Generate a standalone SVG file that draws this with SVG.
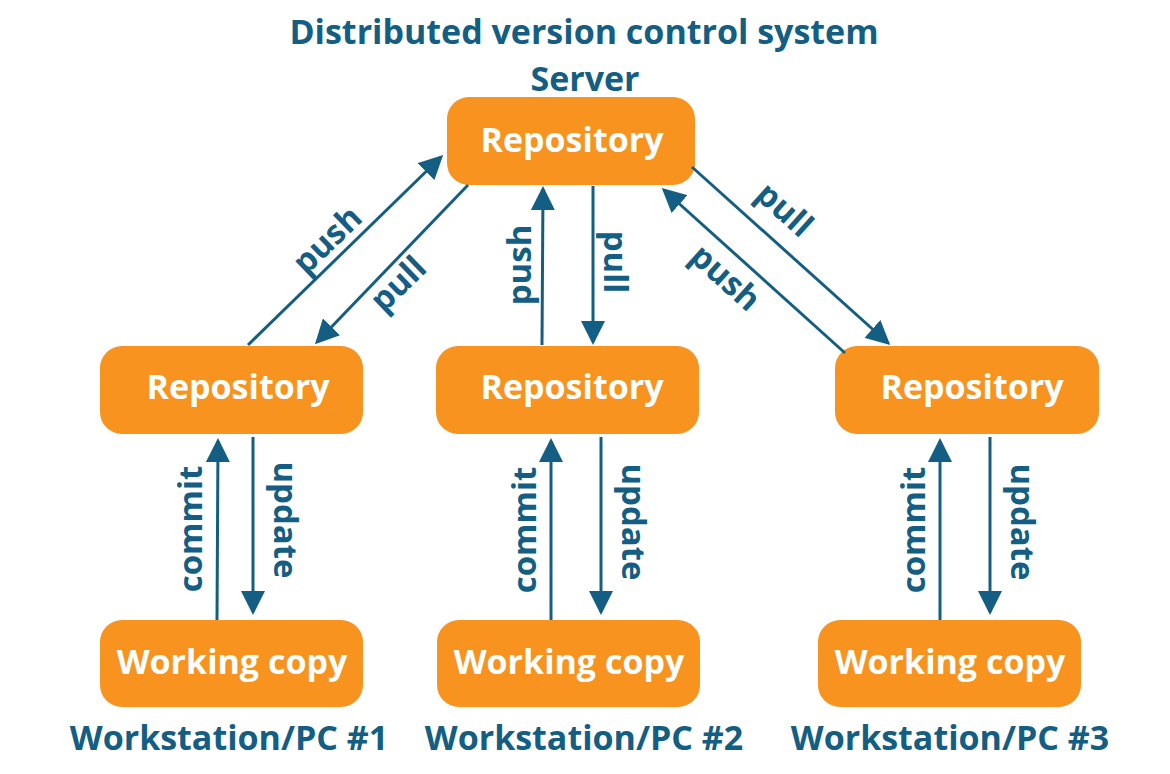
<svg xmlns="http://www.w3.org/2000/svg" width="1170" height="774" viewBox="0 0 1170 774">
<style>
.box{fill:#F7931E}
.bt{fill:#fff;font-family:"Open Sans","Noto Sans",sans-serif;font-weight:700;font-size:34px;text-anchor:middle}
.lb{fill:#135E82;font-family:"Open Sans","Noto Sans",sans-serif;font-weight:700;font-size:34px;text-anchor:middle}
.al{fill:#135E82;font-family:"Open Sans","Noto Sans",sans-serif;font-weight:700;font-size:33px;text-anchor:middle}
.c{stroke:#135E82;stroke-width:3;fill:none;marker-end:url(#ah)}
</style>
<defs>
<marker id="ah" markerWidth="8" markerHeight="8" refX="7" refY="4" orient="auto" markerUnits="strokeWidth">
<path d="M0,0 L8,4 L0,8 Z" fill="#135E82"/>
</marker>
</defs>
<rect width="1170" height="774" fill="#fff"/>
<text class="lb" x="584" y="44">Distributed version control system</text>
<text class="lb" x="585" y="91">Server</text>
<g id="server"><rect class="box" x="447" y="97" width="248" height="88" rx="22"/><text class="bt" x="572" y="152">Repository</text></g>
<g id="repo1"><rect class="box" x="100" y="346" width="263" height="88" rx="22"/><text class="bt" x="238" y="399">Repository</text></g>
<g id="repo2"><rect class="box" x="436" y="346" width="263" height="88" rx="22"/><text class="bt" x="572" y="399">Repository</text></g>
<g id="repo3"><rect class="box" x="835" y="346" width="264" height="88" rx="22"/><text class="bt" x="972" y="399">Repository</text></g>
<g id="wc1"><rect class="box" x="100" y="620" width="263" height="87" rx="22"/><text class="bt" x="232" y="674">Working copy</text></g>
<g id="wc2"><rect class="box" x="437" y="620" width="263" height="87" rx="22"/><text class="bt" x="569" y="674">Working copy</text></g>
<g id="wc3"><rect class="box" x="818" y="620" width="263" height="87" rx="22"/><text class="bt" x="950" y="674">Working copy</text></g>
<text class="lb" x="229" y="750">Workstation/PC #1</text>
<text class="lb" x="584" y="750">Workstation/PC #2</text>
<text class="lb" x="950" y="750">Workstation/PC #3</text>
<g id="connectors">
<line class="c" x1="248" y1="345" x2="441" y2="157"/>
<line class="c" x1="468" y1="185" x2="317" y2="342"/>
<line class="c" x1="542" y1="345" x2="543" y2="189"/>
<line class="c" x1="593" y1="186" x2="593" y2="342"/>
<line class="c" x1="692" y1="167" x2="888" y2="343"/>
<line class="c" x1="845" y1="353" x2="664" y2="190"/>
<line class="c" x1="217" y1="620" x2="218" y2="441"/>
<line class="c" x1="253" y1="437" x2="253" y2="612"/>
<line class="c" x1="551" y1="620" x2="551" y2="441"/>
<line class="c" x1="601" y1="437" x2="601" y2="612"/>
<line class="c" x1="940" y1="620" x2="940" y2="441"/>
<line class="c" x1="990" y1="437" x2="990" y2="612"/>
</g>
<g id="labels">
<text class="al" transform="translate(335,248) rotate(-44)">push</text>
<text class="al" transform="translate(406,292) rotate(-44)">pull</text>
<text class="al" transform="translate(531,265) rotate(-90)">push</text>
<text class="al" transform="translate(604,262) rotate(90)">pull</text>
<text class="al" transform="translate(777,218) rotate(42)">pull</text>
<text class="al" transform="translate(718,286) rotate(42)">push</text>
<text class="al" transform="translate(202,529) rotate(-90)">commit</text>
<text class="al" transform="translate(274,520) rotate(90)">update</text>
<text class="al" transform="translate(536,530) rotate(-90)">commit</text>
<text class="al" transform="translate(622,522) rotate(90)">update</text>
<text class="al" transform="translate(925,530) rotate(-90)">commit</text>
<text class="al" transform="translate(1011,522) rotate(90)">update</text>
</g>
</svg>
